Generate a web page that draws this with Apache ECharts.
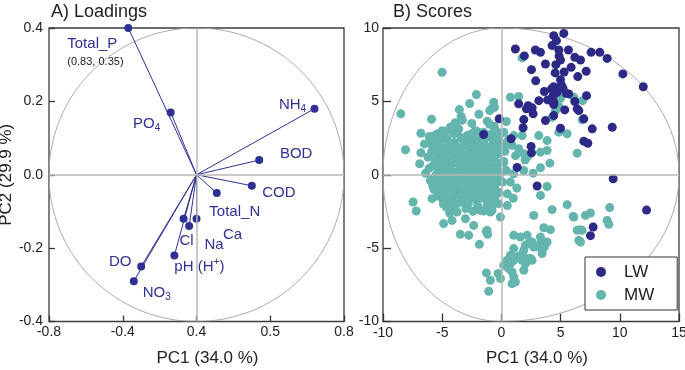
<!DOCTYPE html>
<html><head><meta charset="utf-8">
<script src="https://cdn.jsdelivr.net/npm/echarts@6/dist/echarts.min.js"></script>
<style>html,body{margin:0;padding:0;background:#fff}#c{width:685px;height:370px}</style>
</head><body><div id="c"></div>
<script>
// ---------- DATA ----------
const loadNames = ['Total_P','PO4','NH4','BOD','COD','Total_N','Cl','Na','Ca','pH','DO','NO3'];
const loadPC1 = [-0.37,-0.14,0.64,0.34,0.30,0.11,-0.07,-0.04,0.00,-0.12,-0.30,-0.34];
const loadPC2 = [0.40,0.17,0.18,0.04,-0.03,-0.05,-0.12,-0.14,-0.12,-0.22,-0.25,-0.29];
const totalPNote = '(0.83, 0.35)';
const loadXTickLabels = ['-0.8','-0.4','0.4','0.5','0.8'];
const loadYTickLabels = ['-0.4','-0.2','0.0','0.2','0.4'];
const scoreXTicks = [-10,-5,0,5,10,15];
const scoreYTicks = [-10,-5,0,5,10];
const seriesNames = ['LW','MW'];

const lwScores = [
[5.27,9.63],[4.42,9.48],[4.65,9.14],[4.28,8.8],[4.85,8.5],[1.18,8.57],[1.94,8.1],[2.87,8.5],[3.3,8.34],[5.66,8.5],
[4.87,8.1],[4.99,7.82],[6.2,8.0],[6.68,7.82],[7.58,8.34],[8.31,8.34],[8.93,7.93],[3.72,7.55],[2.54,7.16],[5.89,7.32],
[7.16,7.05],[4.54,6.94],[6.45,6.69],[10.26,6.87],[4.99,6.48],[5.07,6.12],[11.98,6.0],[4.42,6.0],[4.23,5.85],[3.63,5.67],
[4.71,5.62],[5.47,5.55],[5.69,5.51],[4.37,5.39],[7.19,5.39],[3.16,5.05],[4.42,4.94],[6.2,4.99],[2.26,4.71],[1.46,4.83],
[2.6,4.56],[2.11,4.49],[4.42,4.78],[5.35,4.42],[6.4,4.49],[6.54,4.37],[2.68,4.15],[4.42,4.03],[6.96,3.81],[1.89,3.76],
[-0.19,3.81],[3.72,3.69],[7.67,3.13],[9.36,3.24],[4.99,3.17],[1.83,3.2],[-1.5,2.74],[0.82,2.45],[2.51,1.93],[2.54,1.5],
[6.96,2.29],[7.3,2.15],[1.33,0.5],[3.02,-0.77],[9.44,-0.27],[12.26,-2.41],[7.75,-3.56],[7.52,-4.15],
[5.2,5.9],[3.9,5.1],[5.3,7.0],[4.6,7.5],[2.9,6.4]
];

const mwScores = [
// upper scattered
[1.75,7.96],[-5.01,6.98],[-8.5,4.15],[-2.11,5.46],[-2.68,4.85],[-0.65,4.94],[-0.59,4.6],[0.76,5.28],[1.46,5.33],[-3.55,4.44],
[-0.99,4.37],[-0.79,4.52],[0.42,3.63],[4.57,4.37],[6.11,5.28],[6.85,5.05],[4.85,4.65],[4.28,3.92],[6.82,3.74],[5.0,5.2],
// main cluster
[-5.9,3.78],[-4.3,3.25],[-3.4,3.97],[-3.3,3.72],[-1.9,4.12],[-1.2,3.65],[-1.0,3.45],[-0.6,3.3],[-2.5,3.5],[-3.9,3.55],
[-6.8,2.83],[-6.1,2.6],[-5.4,2.8],[-5.0,3.0],[-4.45,3.05],[-4.0,2.8],[-3.6,3.13],[-2.9,2.67],[-2.2,3.0],[-2.05,2.95],[-1.5,2.9],[-0.65,3.24],[0.2,2.9],[-0.2,2.6],
[-5.7,2.65],[-4.8,2.6],[-3.7,2.85],[-3.2,2.35],[-2.5,2.8],[-1.6,2.6],[-0.9,2.75],[-0.4,2.95],
[-6.0,2.45],[-5.2,2.3],[-4.6,2.45],[-4.0,2.2],[-3.4,2.5],[-2.7,2.2],[-2.3,2.4],[-1.8,2.33],[-1.2,2.56],[-0.7,2.3],[-0.1,2.2],[0.6,2.4],[1.04,2.67],
[-6.5,2.1],[-5.4,2.15],[-4.5,2.1],[-3.9,2.0],[-3.4,1.85],[-2.3,2.05],[-1.5,2.15],[-0.5,2.05],
[-8.1,1.7],[-5.85,2.0],[-5.6,1.65],[-4.9,1.8],[-4.3,1.9],[-3.7,1.7],[-3.1,1.95],[-2.6,1.7],[-2.0,1.85],[-1.4,1.6],[-0.9,1.9],[-0.3,1.7],[0.3,1.6],
[-5.9,1.55],[-5.0,1.5],[-4.4,1.65],[-3.4,1.5],[-2.6,1.45],[-2.1,1.5],[-1.0,1.6],[-0.2,1.45],
[-6.8,1.5],[-6.2,1.2],[-5.3,1.3],[-4.7,1.1],[-4.1,1.4],[-3.5,1.2],[-2.9,1.35],[-2.3,1.1],[-1.7,1.3],[-1.1,1.1],[-0.5,1.35],[0.2,0.9],[-3.2,0.9],
[-5.6,1.0],[-4.9,0.95],[-4.3,1.0],[-3.6,0.95],[-2.6,1.05],[-1.9,1.0],[-1.3,0.95],[-0.7,1.1],
[-6.9,0.75],[-5.8,0.6],[-5.1,0.8],[-4.5,0.6],[-3.9,0.8],[-3.3,0.55],[-2.7,0.8],[-2.1,0.6],[-1.5,0.75],[-0.9,0.55],[-0.3,0.8],[-4.2,0.3],
[-6.1,0.45],[-5.3,0.4],[-4.7,0.35],[-3.5,0.35],[-2.8,0.45],[-2.2,0.3],[-1.6,0.4],[-1.0,0.3],[-0.4,0.45],
[-6.4,0.1],[-5.5,0.0],[-4.9,0.2],[-4.4,-0.1],[-3.7,0.15],[-3.1,-0.05],[-2.5,0.2],[-1.9,0.0],[-1.3,0.15],[-0.7,-0.05],[-0.1,0.1],[0.4,0.3],
[-5.7,-0.2],[-5.1,-0.3],[-4.4,-0.35],[-3.8,-0.2],[-3.2,-0.3],[-2.6,-0.2],[-2.0,-0.3],[-1.4,-0.25],[-0.8,-0.3],[-0.2,-0.2],
[-6.0,-0.4],[-5.3,-0.6],[-4.7,-0.4],[-4.1,-0.65],[-3.5,-0.45],[-2.9,-0.6],[-2.3,-0.4],[-1.7,-0.6],[-1.1,-0.45],[-0.5,-0.65],[0.1,-0.5],[0.76,-0.5],
[-5.8,-0.75],[-5.0,-0.85],[-4.3,-0.8],[-3.7,-0.85],[-3.0,-0.9],[-2.4,-0.8],[-1.8,-0.85],[-1.2,-0.8],[-0.6,-0.9],
[-5.7,-1.0],[-5.1,-1.2],[-4.5,-1.0],[-3.9,-1.25],[-3.3,-1.05],[-2.6,-1.2],[-2.0,-1.0],[-1.4,-1.2],[-0.8,-1.05],[-0.2,-1.2],[0.5,-1.3],
[-5.4,-1.45],[-4.8,-1.35],[-4.1,-1.5],[-3.5,-1.45],[-2.9,-1.35],[-2.3,-1.45],[-1.7,-1.35],[-1.1,-1.3],[-0.5,-1.45],
[-7.46,-1.86],[-5.86,-1.63],[-5.0,-1.6],[-4.4,-1.8],[-3.74,-1.97],[-3.32,-1.86],[-2.7,-1.6],[-2.1,-1.75],[-1.5,-1.6],[-0.65,-1.97],[-0.23,-1.97],[-1.0,-1.5],
[-4.9,-2.0],[-4.0,-2.15],[-2.8,-2.0],[-2.0,-2.1],[-1.2,-2.05],
[-7.19,-2.47],[-4.65,-2.2],[-4.37,-2.61],[-3.74,-2.54],[-3.0,-2.3],[-2.4,-2.5],[-1.78,-2.43],[-1.5,-2.47],[-0.93,-2.54],[-0.79,-2.43],[-0.08,-2.88],
[-4.88,-3.33],[-4.17,-3.11],[-3.04,-3.0],[-2.34,-3.45],[-1.27,-3.86],[-1.16,-4.06],[-1.21,-3.79],[-3.47,-4.06],[-2.76,-4.13],[-1.86,-4.74],
// right of zero, upper
[1.46,1.77],[1.89,1.43],[2.17,1.2],[3.3,1.54],[3.86,1.65],[6.4,1.47],[0.2,0.86],[1.04,0.07],[1.89,0.29],[2.68,0.11],
[3.3,0.48],[4.09,0.79],[3.86,-0.8],[3.3,-1.41],[1.75,2.67],[3.16,2.67],[3.86,2.33],[4.85,2.9],[5.55,2.79],[1.3,-0.9],
[1.0,-1.6],[0.5,-2.1],[2.0,1.0],[1.2,1.3],[0.9,2.0],[0.2,2.0],
// right lower group
[5.55,-2.04],[6.06,-2.84],[7.1,-2.77],[7.52,-2.61],[9.15,-2.24],[8.93,-3.11],[9.07,-3.38],[6.4,-3.79],[6.68,-3.74],[6.82,-3.79],
[6.54,-4.47],[6.11,-2.88],[2.73,-2.77],[3.58,-3.61],[4.14,-3.74],[4.28,-2.38],[6.68,-4.58],
// lower tail
[1.04,-4.13],[1.61,-4.24],[2.17,-4.13],[3.3,-4.24],[3.58,-4.58],[-1.27,-6.69],[-0.93,-7.19],[-1.07,-7.94],[-0.28,-6.73],[-0.08,-7.07],
[0.2,-6.17],[0.48,-6.24],[0.62,-6.4],[0.9,-6.62],[1.04,-6.97],[1.18,-7.31],[0.9,-7.42],[0.76,-6.05],[1.04,-5.83],[1.33,-5.6],
[1.61,-5.49],[1.75,-5.83],[1.89,-6.51],[2.03,-6.05],[2.17,-5.71],[2.45,-5.71],[2.59,-5.83],[2.73,-4.93],[3.16,-4.93],[3.3,-4.69],
[3.44,-5.37],[3.63,-4.93],[1.89,-5.15],[2.03,-4.81],[2.31,-4.69],[2.59,-4.58],[1.04,-5.03],[0.76,-5.49],[0.48,-5.83],[3.86,-4.58]
];

// ---------- STYLE / LAYOUT ----------
const FONT = '"Liberation Sans", Arial, Helvetica, sans-serif';
const NAVY = '#2e3192';
const LW_COLOR = '#2d2a87';
const MW_COLOR = '#63b5ad';
const TXT = '#222';

const labelText = {
  Total_P: '{n|Total_P}\n{c|' + totalPNote + '}',
  PO4: '{n|PO}{sub|4}',
  NH4: '{n|NH}{sub|4}',
  NO3: '{n|NO}{sub|3}',
  pH: '{n|pH (H}{sup|+}{n|)}'
};
const labelLayout = {
  Total_P: {offset: [-61, 6], align: 'left', verticalAlign: 'top'},
  PO4: {offset: [-24, 11]},
  NH4: {offset: [-22, -4]},
  BOD: {offset: [37, -6]},
  COD: {offset: [27, 7]},
  Total_N: {offset: [18, 19]},
  Cl: {offset: [3, 22]},
  Na: {offset: [25, 19]},
  Ca: {offset: [36, 16]},
  pH: {offset: [25, 11]},
  DO: {offset: [-21, -5]},
  NO3: {offset: [23, 12]}
};
const rich = {
  n: {fontSize: 15, color: NAVY, lineHeight: 19, fontFamily: FONT},
  sub: {fontSize: 10, color: NAVY, lineHeight: 14, verticalAlign: 'bottom', fontFamily: FONT},
  sup: {fontSize: 10, color: NAVY, lineHeight: 12, verticalAlign: 'top', fontFamily: FONT},
  c: {fontSize: 11, color: TXT, lineHeight: 17, fontFamily: FONT}
};

const loadPoints = loadNames.map((nm, i) => {
  const lay = labelLayout[nm];
  return {
    name: nm,
    value: [loadPC1[i], loadPC2[i]],
    label: {
      show: true, position: 'inside',
      formatter: labelText[nm] || ('{n|' + nm + '}'),
      rich: rich,
      offset: lay.offset,
      align: lay.align || 'center',
      verticalAlign: lay.verticalAlign || 'middle'
    }
  };
});
const loadLines = loadNames.map((nm, i) => ({coords: [[0, 0], [loadPC1[i], loadPC2[i]]]}));

function ellipse(idx, rxL, rxR, ry) {
  return {
    type: 'custom', xAxisIndex: idx, yAxisIndex: idx, silent: true, z: 1,
    data: [[0, 0]], clip: true,
    renderItem: function (params, api) {
      const pts = [];
      for (let k = 0; k <= 360; k++) {
        const a = k * Math.PI / 180, c = Math.cos(a), s = Math.sin(a);
        const rx = c >= 0 ? rxR : rxL;
        pts.push(api.coord([rx * c, ry * s]));
      }
      return {type: 'polyline', shape: {points: pts}, style: {stroke: '#a8a8a8', lineWidth: 1, fill: null}};
    },
    markLine: {
      silent: true, symbol: 'none', label: {show: false}, animation: false,
      lineStyle: {color: '#b8b8b8', width: 1.5, type: 'solid'},
      data: [{xAxis: 0}, {yAxis: 0}]
    }
  };
}

const gridBase = {show: true, borderColor: '#3c3c3c', borderWidth: 1.3, backgroundColor: 'transparent', containLabel: false, outerBoundsMode: 'none'};
const tickStyle = {show: true, inside: true, lineStyle: {color: '#333', width: 1.3}};
const nameStyle = {fontSize: 17, color: TXT, fontFamily: FONT};
const noLine = {show: false, onZero: false};

const option = {
  animation: false,
  textStyle: {fontFamily: FONT},
  title: [
    {text: 'A) Loadings', left: 51, top: 3, padding: 0, textStyle: {fontSize: 18, fontWeight: 'normal', color: TXT, fontFamily: FONT}},
    {text: 'B) Scores', left: 393, top: 3, padding: 0, textStyle: {fontSize: 18, fontWeight: 'normal', color: TXT, fontFamily: FONT}}
  ],
  grid: [
    Object.assign({left: 49, top: 28, width: 295, height: 293.5}, gridBase),
    Object.assign({left: 383, top: 28, width: 296, height: 293.5}, gridBase)
  ],
  xAxis: [
    {gridIndex: 0, type: 'value', min: -0.8, max: 0.8, interval: 0.4,
     axisLine: noLine, splitLine: {show: false}, axisTick: Object.assign({length: 6}, tickStyle),
     axisLabel: {margin: 4, fontSize: 14, color: TXT, fontFamily: FONT, showMinLabel: true, showMaxLabel: true,
       formatter: v => loadXTickLabels[Math.round((v + 0.8) / 0.4)]},
     name: 'PC1 (34.0 %)', nameLocation: 'middle', nameGap: 28, nameTextStyle: Object.assign({padding: [0, 0, 0, 22]}, nameStyle)},
    {gridIndex: 1, type: 'value', min: scoreXTicks[0], max: scoreXTicks[scoreXTicks.length - 1], interval: 5,
     axisLine: noLine, splitLine: {show: false}, axisTick: Object.assign({length: 8}, tickStyle),
     axisLabel: {margin: 5, fontSize: 14, color: TXT, fontFamily: FONT, showMinLabel: true, showMaxLabel: true},
     name: 'PC1 (34.0 %)', nameLocation: 'middle', nameGap: 28, nameTextStyle: Object.assign({padding: [0, 0, 0, 12]}, nameStyle)}
  ],
  yAxis: [
    {gridIndex: 0, type: 'value', min: -0.4, max: 0.4, interval: 0.2,
     axisLine: noLine, splitLine: {show: false}, axisTick: Object.assign({length: 6}, tickStyle),
     axisLabel: {margin: 6, fontSize: 14, color: TXT, fontFamily: FONT, showMinLabel: true, showMaxLabel: true,
       formatter: v => loadYTickLabels[Math.round((v + 0.4) / 0.2)]},
     name: 'PC2 (29.9 %)', nameLocation: 'middle', nameGap: 30, nameTextStyle: nameStyle},
    {gridIndex: 1, type: 'value', min: scoreYTicks[0], max: scoreYTicks[scoreYTicks.length - 1], interval: 5,
     axisLine: noLine, splitLine: {show: false}, axisTick: Object.assign({length: 8}, tickStyle),
     axisLabel: {margin: 4, fontSize: 14, color: TXT, fontFamily: FONT, showMinLabel: true, showMaxLabel: true}}
  ],
  legend: {
    data: seriesNames, orient: 'vertical', left: 585, top: 257,
    icon: 'circle', itemWidth: 10, itemHeight: 10, itemGap: 3,
    padding: [5, 23, 5, 11],
    borderColor: '#333', borderWidth: 1, backgroundColor: '#fff',
    selectedMode: false,
    textStyle: {fontSize: 17, color: TXT, fontFamily: FONT, lineHeight: 20, padding: [0, 0, 0, 13]}
  },
  series: [
    ellipse(0, 0.8, 0.8, 0.4),
    ellipse(1, 10, 15, 10),
    {type: 'lines', coordinateSystem: 'cartesian2d', xAxisIndex: 0, yAxisIndex: 0, z: 3, silent: true,
     lineStyle: {color: NAVY, width: 1, opacity: 1}, data: loadLines},
    {type: 'scatter', xAxisIndex: 0, yAxisIndex: 0, z: 4, symbolSize: 8, itemStyle: {color: NAVY, opacity: 1},
     data: loadPoints},
    {name: seriesNames[1], type: 'scatter', xAxisIndex: 1, yAxisIndex: 1, z: 3, symbolSize: 9,
     itemStyle: {color: MW_COLOR, opacity: 1}, data: mwScores},
    {name: seriesNames[0], type: 'scatter', xAxisIndex: 1, yAxisIndex: 1, z: 4, symbolSize: 9,
     itemStyle: {color: LW_COLOR, opacity: 1}, data: lwScores}
  ]
};
const chart = echarts.init(document.getElementById('c'), null, {renderer: 'canvas'});
chart.setOption(option);
</script></body></html>
